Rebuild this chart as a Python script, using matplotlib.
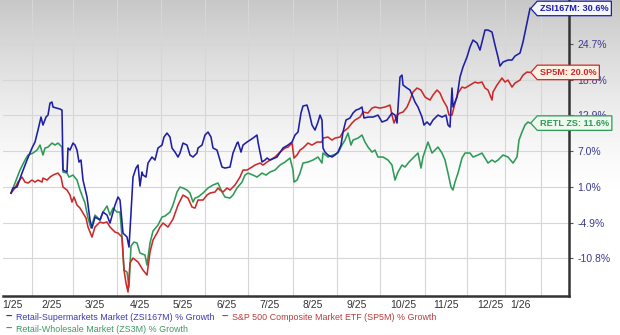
import matplotlib.pyplot as plt
import numpy as np
from matplotlib.path import Path

# x positions are chart sessions from the first point; values are % growth
blue_x = [0, 2, 6, 11, 16, 21, 24, 27, 30, 32, 35, 37, 39, 41, 42, 49, 51, 52, 56, 57,
          59, 62, 64, 66, 68, 70, 72, 76, 79, 81, 84, 89, 92, 96, 99, 104, 107, 109, 112, 114,
          116, 118, 120, 122, 125, 127, 129, 131, 132, 135, 137, 141, 144, 147, 151, 153, 156, 159, 161, 164,
          167, 169, 172, 176, 179, 182, 186, 187, 191, 194, 197, 200, 202, 206, 208, 211, 214, 219, 222, 226,
          227, 230, 232, 236, 239, 242, 246, 247, 251, 254, 256, 259, 266, 272, 277, 281, 284, 287, 290, 292,
          296, 298, 301, 304, 307, 309, 311, 312, 314, 317, 321, 324, 327, 330, 332, 335, 339, 342, 345, 348,
          351, 353, 357, 362, 367, 371, 376, 381, 384, 386, 389, 391, 392, 396, 399, 402, 404, 407, 411, 413,
          416, 419, 422, 427, 431, 435, 437, 439, 441, 442, 446, 449, 452, 456, 459, 462, 466, 469, 472, 474,
          477, 481, 484, 487, 489, 492, 497, 501, 504, 509, 512, 516, 519]
blue_y = [0.0, 0.84, 1.0, 3.32, 5.48, 7.47, 8.46, 10.45, 12.6, 11.28, 12.6, 12.93, 14.92, 15.09, 14.26, 13.93, 13.76, 3.82, 3.49, 7.47,
          7.13, 8.29, 7.96, 7.13, 5.15, 5.48, 2.16, -0.65, -4.46, -5.79, -3.97, -4.46, -3.14, -3.64, -4.96, -1.98, -0.65, -1.15, -6.62, -6.95,
          -7.28, -8.94, -3.3, 2.66, 4.15, 4.65, 1.17, 3.49, 2.99, 2.66, 4.98, 5.98, 5.48, 7.47, 7.96, 9.29, 9.95, 9.29, 7.47, 6.8,
          5.98, 6.64, 8.29, 7.96, 6.31, 5.98, 6.64, 7.47, 7.96, 9.62, 10.12, 9.29, 7.47, 7.13, 5.98, 4.32, 4.15, 4.32, 6.64, 8.29,
          8.46, 6.8, 7.96, 8.46, 8.79, 9.12, 9.62, 8.46, 5.15, 5.48, 5.81, 5.48, 5.98, 7.47, 7.96, 8.46, 9.62, 10.12, 13.27, 14.43,
          14.59, 13.43, 11.28, 10.45, 11.78, 12.93, 12.11, 7.47, 6.8, 6.31, 5.98, 6.31, 6.8, 7.96, 10.12, 12.11, 12.44, 13.27, 13.76, 13.93,
          14.26, 12.44, 12.6, 12.6, 12.93, 11.78, 12.11, 13.27, 12.93, 11.61, 19.23, 19.56, 17.91, 17.41, 17.08, 15.92, 15.09, 14.26, 12.6, 11.28,
          11.78, 11.28, 12.11, 12.93, 12.6, 12.93, 11.28, 10.95, 17.41, 14.26, 15.92, 19.23, 20.89, 22.55, 24.2, 25.36, 24.87, 23.7, 25.69, 27.02,
          27.02, 26.69, 24.53, 22.55, 21.05, 21.72, 22.05, 22.05, 22.71, 23.21, 25.03, 28.18, 30.6]

red_x = [0, 4, 7, 11, 14, 17, 21, 24, 27, 31, 32, 36, 39, 42, 47, 50, 52, 56, 59, 61,
         63, 66, 69, 72, 75, 77, 81, 84, 89, 92, 96, 99, 104, 107, 111, 113, 115, 117, 119, 122,
         127, 132, 136, 139, 142, 146, 149, 152, 157, 162, 167, 172, 177, 181, 184, 187, 192, 196, 199, 204,
         207, 209, 212, 216, 219, 224, 229, 232, 236, 241, 244, 249, 252, 256, 259, 264, 269, 274, 277, 281,
         283, 286, 289, 292, 297, 301, 306, 311, 312, 317, 321, 324, 329, 332, 337, 341, 344, 349, 352, 357,
         361, 364, 369, 374, 379, 381, 383, 386, 389, 392, 396, 399, 402, 406, 410, 414, 419, 422, 426, 429,
         432, 436, 438, 441, 444, 447, 451, 454, 459, 464, 467, 471, 474, 477, 481, 482, 486, 491, 494, 497,
         501, 504, 509, 512, 516, 519]
red_y = [0.0, 0.84, 1.83, 2.66, 1.83, 1.67, 2.16, 1.83, 2.16, 1.83, 2.5, 2.16, 2.66, 2.99, 3.32, 2.66, 1.0, 0.51, -0.32, -1.48,
         -0.65, -1.98, -2.48, -3.3, -4.13, -5.62, -7.28, -5.62, -4.79, -4.96, -4.79, -5.62, -6.45, -6.62, -7.28, -12.75, -14.9, -16.39, -11.59, -10.76,
         -11.42, -12.75, -13.58, -9.77, -7.78, -6.62, -5.62, -4.96, -5.62, -4.3, -1.98, -0.32, -0.82, -2.31, -2.48, -1.15, -1.15, -0.32, 0.01, 0.18,
         0.84, 0.51, 0.18, 0.84, 0.51, 1.34, 2.66, 3.82, 3.82, 4.32, 4.65, 4.98, 4.65, 5.15, 5.48, 5.98, 6.8, 7.47, 7.63, 8.29,
         5.81, 6.31, 7.13, 7.47, 8.29, 7.96, 8.46, 8.46, 9.12, 9.29, 8.79, 9.12, 9.29, 10.12, 10.78, 11.61, 12.11, 12.6, 13.43, 13.27,
         14.09, 14.26, 14.09, 14.26, 14.59, 12.93, 11.61, 12.93, 13.27, 13.43, 14.26, 15.42, 16.75, 17.41, 17.08, 15.92, 15.42, 16.25, 17.08, 16.58,
         15.42, 14.26, 12.93, 12.93, 14.92, 16.58, 17.57, 17.41, 17.91, 18.4, 18.24, 18.4, 17.41, 17.08, 15.42, 16.75, 17.91, 19.07, 18.4, 18.73,
         17.57, 18.24, 18.73, 19.56, 20.06, 20.0]

green_x = [0, 4, 9, 14, 17, 22, 26, 29, 32, 34, 37, 41, 44, 47, 51, 52, 56, 58, 62, 66,
           69, 74, 77, 80, 84, 89, 92, 96, 99, 102, 106, 109, 111, 113, 116, 118, 120, 123, 126, 129,
           134, 136, 139, 142, 147, 151, 154, 159, 162, 166, 169, 172, 176, 179, 182, 184, 187, 192, 197, 202,
           207, 211, 214, 219, 222, 226, 231, 234, 237, 242, 246, 251, 255, 259, 264, 269, 274, 279, 282, 283,
           286, 289, 292, 297, 302, 307, 311, 312, 317, 322, 327, 331, 334, 337, 340, 342, 347, 351, 354, 357,
           361, 364, 367, 372, 377, 381, 384, 387, 391, 394, 398, 402, 407, 410, 412, 416, 417, 421, 424, 427,
           431, 434, 437, 440, 442, 444, 447, 451, 454, 459, 462, 467, 471, 474, 477, 481, 484, 487, 492, 497,
           502, 506, 508, 511, 514, 517, 519]
green_y = [0.0, 1.67, 3.82, 5.48, 6.31, 6.64, 7.13, 7.96, 6.31, 7.47, 7.63, 8.29, 7.96, 8.29, 7.63, 3.49, 3.32, 2.66, 2.99, 2.16,
           0.51, -1.65, -4.13, -5.79, -3.64, -4.46, -3.14, -2.14, -3.64, -2.48, -3.14, -3.14, -7.28, -12.75, -13.08, -15.57, -8.77, -8.11, -8.27, -9.93,
           -10.26, -11.92, -8.27, -6.29, -5.29, -3.97, -3.8, -3.14, -1.98, 0.18, 1.0, 0.84, 0.51, 0.01, -1.48, -0.82, -0.65, 0.01, 0.84, 1.34,
           1.67, 0.18, -0.65, -0.82, -0.32, 0.84, 1.83, 2.99, 3.32, 2.99, 2.66, 3.32, 2.99, 3.49, 3.82, 4.65, 5.15, 5.81, 3.82, 1.83,
           2.16, 3.32, 4.98, 5.15, 5.48, 5.98, 4.98, 6.64, 5.98, 6.31, 6.64, 7.96, 8.79, 9.95, 7.96, 8.79, 9.12, 9.62, 8.46, 7.63,
           6.8, 7.13, 5.98, 5.98, 5.48, 4.65, 2.16, 3.49, 4.65, 4.32, 5.15, 5.81, 6.64, 4.15, 5.98, 7.96, 8.46, 6.64, 7.13, 7.63,
           6.64, 5.48, 3.32, 1.0, 0.51, 1.83, 3.32, 5.81, 6.64, 6.64, 5.98, 6.31, 6.64, 5.81, 4.98, 5.48, 5.15, 5.48, 6.31, 5.98,
           4.98, 5.98, 8.79, 10.12, 11.28, 11.78, 11.6]

y_ticks = [-10.8, -4.9, 1.0, 7.0, 12.9, 18.8, 24.7]
month_labels = ['1/25', '2/25', '3/25', '4/25', '5/25', '6/25', '7/25', '8/25',
                '9/25', '10/25', '11/25', '12/25', '1/26']
label_pos = [1, 41, 84, 129, 172, 216, 259, 302, 346, 392, 435, 479, 509]
grid_pos = [21, 62, 106, 150, 194, 237, 282, 326, 369, 414, 456, 494, 530]

series = [
    ('Retail-Wholesale Market (ZS3M) % Growth', 'RETL ZS', green_x, green_y,
     '#2e9a57', '#3c9a60', '#effaef'),
    ('S&P 500 Composite Market ETF (SP5M) % Growth', 'SP5M', red_x, red_y,
     '#cc2a2a', '#c03a3a', '#fff1e4'),
    ('Retail-Supermarkets Market (ZSI167M) % Growth', 'ZSI167M', blue_x, blue_y,
     '#1e1ea6', '#3b3bb0', '#f6f6ff'),
]


def tag_box(x0, y0, width, height, mutation_size):
    pad = 0.3 * mutation_size
    x0, y0 = x0 - pad, y0 - pad
    w, h = width + 2 * pad, height + 2 * pad
    tip = 0.45 * h
    verts = [(x0, y0), (x0 + w, y0), (x0 + w, y0 + h), (x0, y0 + h),
             (x0 - tip, y0 + h / 2), (x0, y0)]
    return Path(verts, closed=True)


plt.rcParams['font.family'] = ['Liberation Sans', 'DejaVu Sans']

fig = plt.figure(figsize=(6.2, 3.35), dpi=100)

# grey-to-white background fade at the top
bg = fig.add_axes([0, 0, 1, 1], zorder=0)
rows = np.arange(335)
shade = np.where(rows < 200, 1 - 0.22 * (1 - rows / 200) ** 1.4, 1.0)
bg.imshow(shade[:, None], cmap='gray', vmin=0, vmax=1, aspect='auto',
          extent=[0, 1, 0, 1])
bg.axis('off')

ax = fig.add_axes([3 / 620, 1 - 296 / 335, 566 / 620, 296 / 335], zorder=1)
ax.set_facecolor('none')

for name, short, xs, ys, col, txtcol, boxcol in series:
    ax.plot(xs, ys, color=col, lw=1.15, solid_joinstyle='round')
    ax.text(xs[-1] + 10, ys[-1], f'{short}: {ys[-1]:.1f}%', color=col,
            fontsize=6.6, fontweight='bold', va='center', ha='left',
            clip_on=False, zorder=5,
            bbox=dict(boxstyle=tag_box, fc=boxcol, ec=col, lw=0.9))

ax.set_xlim(-8, 558)
ax.set_ylim(-17.05, 32.0)

ax.set_xticks(label_pos)
ax.set_xticklabels(month_labels)
ax.set_xticks(grid_pos, minor=True)
ax.tick_params(axis='x', which='both', length=0, labelsize=7.5,
               labelcolor='#333333', pad=3)

ax.yaxis.tick_right()
ax.set_yticks(y_ticks)
ax.set_yticklabels([f'{v:.1f}%' for v in y_ticks])
ax.tick_params(axis='y', length=3, width=0.8, color='#555555',
               labelsize=7.5, labelcolor='#3b3b8f', pad=3)

ax.grid(axis='x', which='minor', color='#d6d6d6', lw=0.8)
ax.grid(axis='y', which='major', color='#d6d6d6', lw=0.8)
ax.set_axisbelow(True)

for side in ['left', 'top']:
    ax.spines[side].set_visible(False)
for side in ['bottom', 'right']:
    ax.spines[side].set_color('#333333')
    ax.spines[side].set_linewidth(1.8)

# legend under the axis
legend_rows = [(series[2], 6, 317), (series[1], 222, 317), (series[0], 6, 329)]
for (name, short, xs, ys, col, txtcol, boxcol), px, py in legend_rows:
    fig.text(px / 620, 1 - py / 335, '\u2013', color=col, fontsize=8,
             fontweight='bold', va='center', ha='left')
    fig.text((px + 10) / 620, 1 - py / 335, name, color=txtcol, fontsize=6.4,
             va='center', ha='left')

fig.savefig('out.png', dpi=100)
